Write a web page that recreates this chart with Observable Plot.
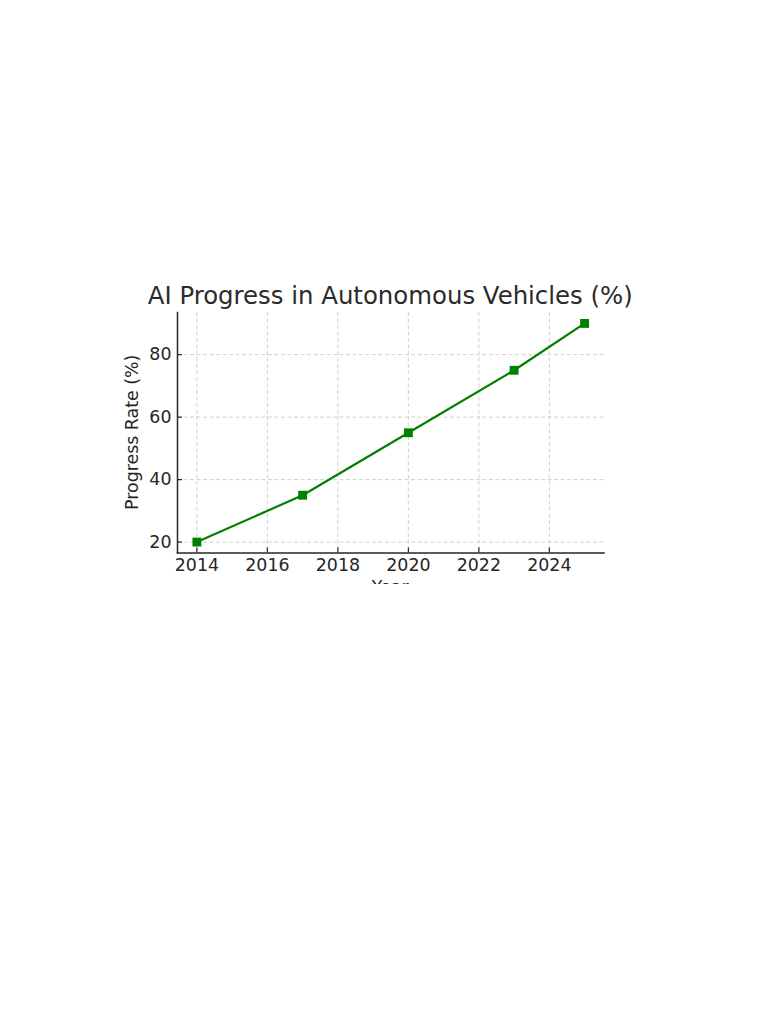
<!DOCTYPE html>
<html>
<head>
<meta charset="utf-8">
<script src="https://cdn.jsdelivr.net/npm/d3@7"></script>
<script src="https://cdn.jsdelivr.net/npm/@observablehq/plot@0.6"></script>
<style>
  html, body { margin: 0; padding: 0; background: #fff; }
  body { width: 768px; height: 1024px; position: relative; overflow: hidden; font-family: "DejaVu Sans", sans-serif; }
  #title { position: absolute; left: 177px; width: 426.5px; top: 284px; text-align: center; font-size: 24.4px; line-height: 1; color: #2b2b2b; white-space: nowrap; display: flex; justify-content: center; }
  #chart { position: absolute; left: 0; top: 305px; }
</style>
</head>
<body>
<div id="title"><span>AI Progress in Autonomous Vehicles (%)</span></div>
<div id="chart"></div>
<script>
const years = [2014, 2017, 2020, 2023, 2025];
const progress = [20, 35, 55, 75, 90];
const xTicks = [2014, 2016, 2018, 2020, 2022, 2024];
const yTicks = [20, 40, 60, 80];
const xLabel = "Year";
const yLabel = "Progress Rate (%)";

const data = years.map((y, i) => ({year: y, value: progress[i]}));
const xPad = (d3.max(years) - d3.min(years)) * 0.05;
const yPad = (d3.max(progress) - d3.min(progress)) * 0.05;
const xDomain = [d3.min(years) - xPad, d3.max(years) + xPad];
const yDomain = [d3.min(progress) - yPad, d3.max(progress) + yPad];

const W = 768, H = 279;
const mL = 177, mR = 164.5, mT = 7, mB = 31.5;

const chart = Plot.plot({
  width: W,
  height: H,
  marginLeft: mL,
  marginRight: mR,
  marginTop: mT,
  marginBottom: mB,
  style: {fontFamily: "DejaVu Sans, sans-serif", fontSize: "17.4px", color: "#262626", background: "transparent", overflow: "hidden"},
  x: {domain: xDomain, label: null},
  y: {domain: yDomain, label: null},
  marks: [
    Plot.gridX(xTicks, {stroke: "#cccccc", strokeOpacity: 1, strokeWidth: 0.9, strokeDasharray: "4,2.5"}),
    Plot.gridY(yTicks, {stroke: "#cccccc", strokeOpacity: 1, strokeWidth: 0.9, strokeDasharray: "4,2.5"}),
    Plot.axisX(xTicks, {tickSize: -5, tickPadding: 11, tickFormat: "d", stroke: "#262626", fill: "#262626", strokeWidth: 1.2, label: null}),
    Plot.axisY(yTicks, {tickSize: -5, tickPadding: 11, stroke: "#262626", fill: "#262626", strokeWidth: 1.2, label: null}),
    Plot.frame({anchor: "left", stroke: "#262626", strokeWidth: 1.5}),
    Plot.frame({anchor: "bottom", stroke: "#262626", strokeWidth: 1.5}),
    Plot.line(data, {x: "year", y: "value", stroke: "#008000", strokeWidth: 2.2}),
    Plot.dot(data, {x: "year", y: "value", symbol: "square", r: 5, fill: "#008000", stroke: "none"})
  ]
});

const svg = d3.select(chart);
svg.append("text")
  .attr("x", (mL + W - mR) / 2)
  .attr("y", 288)
  .attr("text-anchor", "middle")
  .attr("fill", "#262626")
  .style("font-size", "17.4px")
  .text(xLabel);
svg.append("text")
  .attr("transform", `translate(138,${(mT + H - mB) / 2}) rotate(-90)`)
  .attr("text-anchor", "middle")
  .attr("fill", "#262626")
  .style("font-size", "17.4px")
  .text(yLabel);

document.getElementById("chart").appendChild(chart);
</script>
</body>
</html>
